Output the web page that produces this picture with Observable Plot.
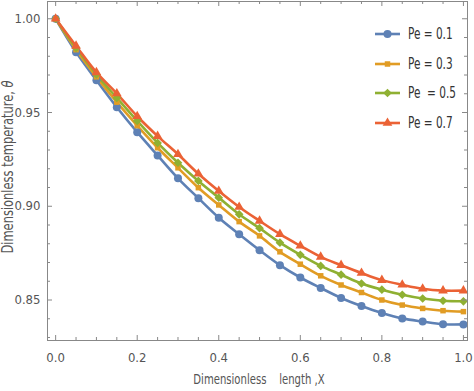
<!DOCTYPE html>
<html><head><meta charset="utf-8">
<script src="https://cdn.jsdelivr.net/npm/d3@7"></script>
<script src="https://cdn.jsdelivr.net/npm/@observablehq/plot@0.6"></script>
<style>
body{margin:0;background:#fff;}
#wrap{position:relative;width:474px;height:391px;overflow:hidden;font-family:"Liberation Sans Narrow","DejaVu Sans Condensed",sans-serif;}
#xlab{position:absolute;left:259px;top:379px;transform:translate(-50%,-50%) scaleX(0.8);font-size:14px;color:#555;white-space:pre;}
#ylab{position:absolute;left:8px;top:167px;transform:translate(-50%,-50%) rotate(-90deg) scaleX(0.85);font-size:15px;color:#555;white-space:nowrap;}
#legend{position:absolute;left:375px;top:19px;font-size:15px;color:#333;}
#legend .row{height:29.7px;display:flex;align-items:center;}
#legend svg{margin-right:8px;}
#legend span{display:inline-block;transform:scaleX(0.78);transform-origin:left center;white-space:pre;}
</style></head><body><div id="wrap"><div id="xlab">Dimensionless    length ,X</div><div id="ylab">Dimensionless temperature, <i>θ</i></div><div id="legend"></div></div>
<script>
const X = [0,0.05,0.1,0.15,0.2,0.25,0.3,0.35,0.4,0.45,0.5,0.55,0.6,0.65,0.7,0.75,0.8,0.85,0.9,0.95,1.0];
const pe01 = [1.0,0.9822,0.9672,0.9528,0.9395,0.9271,0.9149,0.9043,0.8939,0.8851,0.8766,0.8686,0.8620,0.8564,0.8511,0.8468,0.8431,0.8402,0.8385,0.8371,0.8370];
const pe03 = [1.0,0.9835,0.9690,0.9555,0.9430,0.9312,0.9205,0.9099,0.9007,0.8918,0.8842,0.8757,0.8691,0.8629,0.8580,0.8540,0.8500,0.8473,0.8455,0.8443,0.8438];
const pe05 = [1.0,0.9845,0.9703,0.9578,0.9455,0.9338,0.9232,0.9135,0.9046,0.8957,0.8883,0.8806,0.8741,0.8682,0.8635,0.8588,0.8555,0.8528,0.8508,0.8496,0.8493];
const pe07 = [1.0,0.9855,0.9714,0.9601,0.9480,0.9374,0.9277,0.9173,0.9081,0.8996,0.8922,0.8851,0.8789,0.8730,0.8686,0.8644,0.8606,0.8581,0.8560,0.8550,0.8550];
const labels = ["Pe = 0.1","Pe = 0.3","Pe  = 0.5","Pe = 0.7"];
const colors = ["#5E81B5","#E19C24","#8FB032","#EB6235"];
const symbols = ["circle","square","diamond2","triangle"];
const radii = [4,3.1,3.9,3.6];
const xMajor = [0,0.2,0.4,0.6,0.8,1.0];
const xMinor = [0.05,0.1,0.15,0.25,0.3,0.35,0.45,0.5,0.55,0.65,0.7,0.75,0.85,0.9,0.95];
const yMajor = [0.85,0.90,0.95,1.00];
const yMinor = [0.83,0.84,0.86,0.87,0.88,0.89,0.91,0.92,0.93,0.94,0.96,0.97,0.98,0.99];

const seriesVals = [pe01, pe03, pe05, pe07];
const series = seriesVals.map((vals, i) => X.map((x, j) => ({x, y: vals[j], s: labels[i]})));

const W = 474, H = 391, mL = 47, mR = 7, mT = 1, mB = 51;
const fw = W - mL - mR, fh = H - mT - mB;
const majorLen = 5, minorLen = 3;

const marks = [];
series.forEach((d, i) => {
  marks.push(Plot.line(d, {x: "x", y: "y", stroke: colors[i], strokeWidth: 2.6, curve: "catmull-rom"}));
});
series.forEach((d, i) => {
  marks.push(Plot.dot(d, {x: "x", y: "y", fill: colors[i], symbol: () => symbols[i], r: radii[i], stroke: "none"}));
});

const tickStroke = "#888";
const tickMarks = [
  Plot.tickX(xMinor, {x: d => d, insetTop: fh - minorLen, stroke: tickStroke}),
  Plot.tickX(xMajor, {x: d => d, insetTop: fh - majorLen, stroke: tickStroke}),
  Plot.tickX(xMinor, {x: d => d, insetBottom: fh - minorLen, stroke: tickStroke}),
  Plot.tickX(xMajor, {x: d => d, insetBottom: fh - majorLen, stroke: tickStroke}),
  Plot.tickY(yMinor, {y: d => d, insetRight: fw - minorLen, stroke: tickStroke}),
  Plot.tickY(yMajor, {y: d => d, insetRight: fw - majorLen, stroke: tickStroke}),
  Plot.tickY(yMinor, {y: d => d, insetLeft: fw - minorLen, stroke: tickStroke}),
  Plot.tickY(yMajor, {y: d => d, insetLeft: fw - majorLen, stroke: tickStroke})
];

const plot = Plot.plot({
  width: W,
  height: H,
  marginLeft: mL,
  marginRight: mR,
  marginTop: mT,
  marginBottom: mB,
  x: {domain: [-0.02, 1.01]},
  y: {domain: [0.8284, 1.0092]},
  style: {fontFamily: "'Liberation Sans Narrow','DejaVu Sans Condensed',sans-serif", fontSize: "13px", color: "#555", background: "white"},
  marks: [
    ...marks,
    ...tickMarks,
    Plot.frame({stroke: "#888", strokeWidth: 1}),
    Plot.axisX(xMajor, {anchor: "bottom", tickSize: 0, tickPadding: 12, tickFormat: d3.format(".1f"), label: null, fill: "#555"}),
    Plot.axisY(yMajor, {anchor: "left", tickSize: 0, tickPadding: 7, tickFormat: d3.format(".2f"), label: null, fill: "#555"})
  ]
});
const wrap = document.getElementById("wrap");
wrap.insertBefore(plot, wrap.firstChild);

const legend = document.getElementById("legend");
labels.forEach((lab, i) => {
  const row = document.createElement("div");
  row.className = "row";
  const sym = d3.symbol().type([d3.symbolCircle, d3.symbolSquare, d3.symbolDiamond2, d3.symbolTriangle][i]).size(Math.PI * radii[i] * radii[i])();
  row.innerHTML = `<svg width="25" height="12"><line x1="0" x2="25" y1="6" y2="6" stroke="${colors[i]}" stroke-width="2.6"/><path d="${sym}" transform="translate(12.5,6)" fill="${colors[i]}"/></svg><span>${lab}</span>`;
  legend.appendChild(row);
});
</script>
</body></html>
